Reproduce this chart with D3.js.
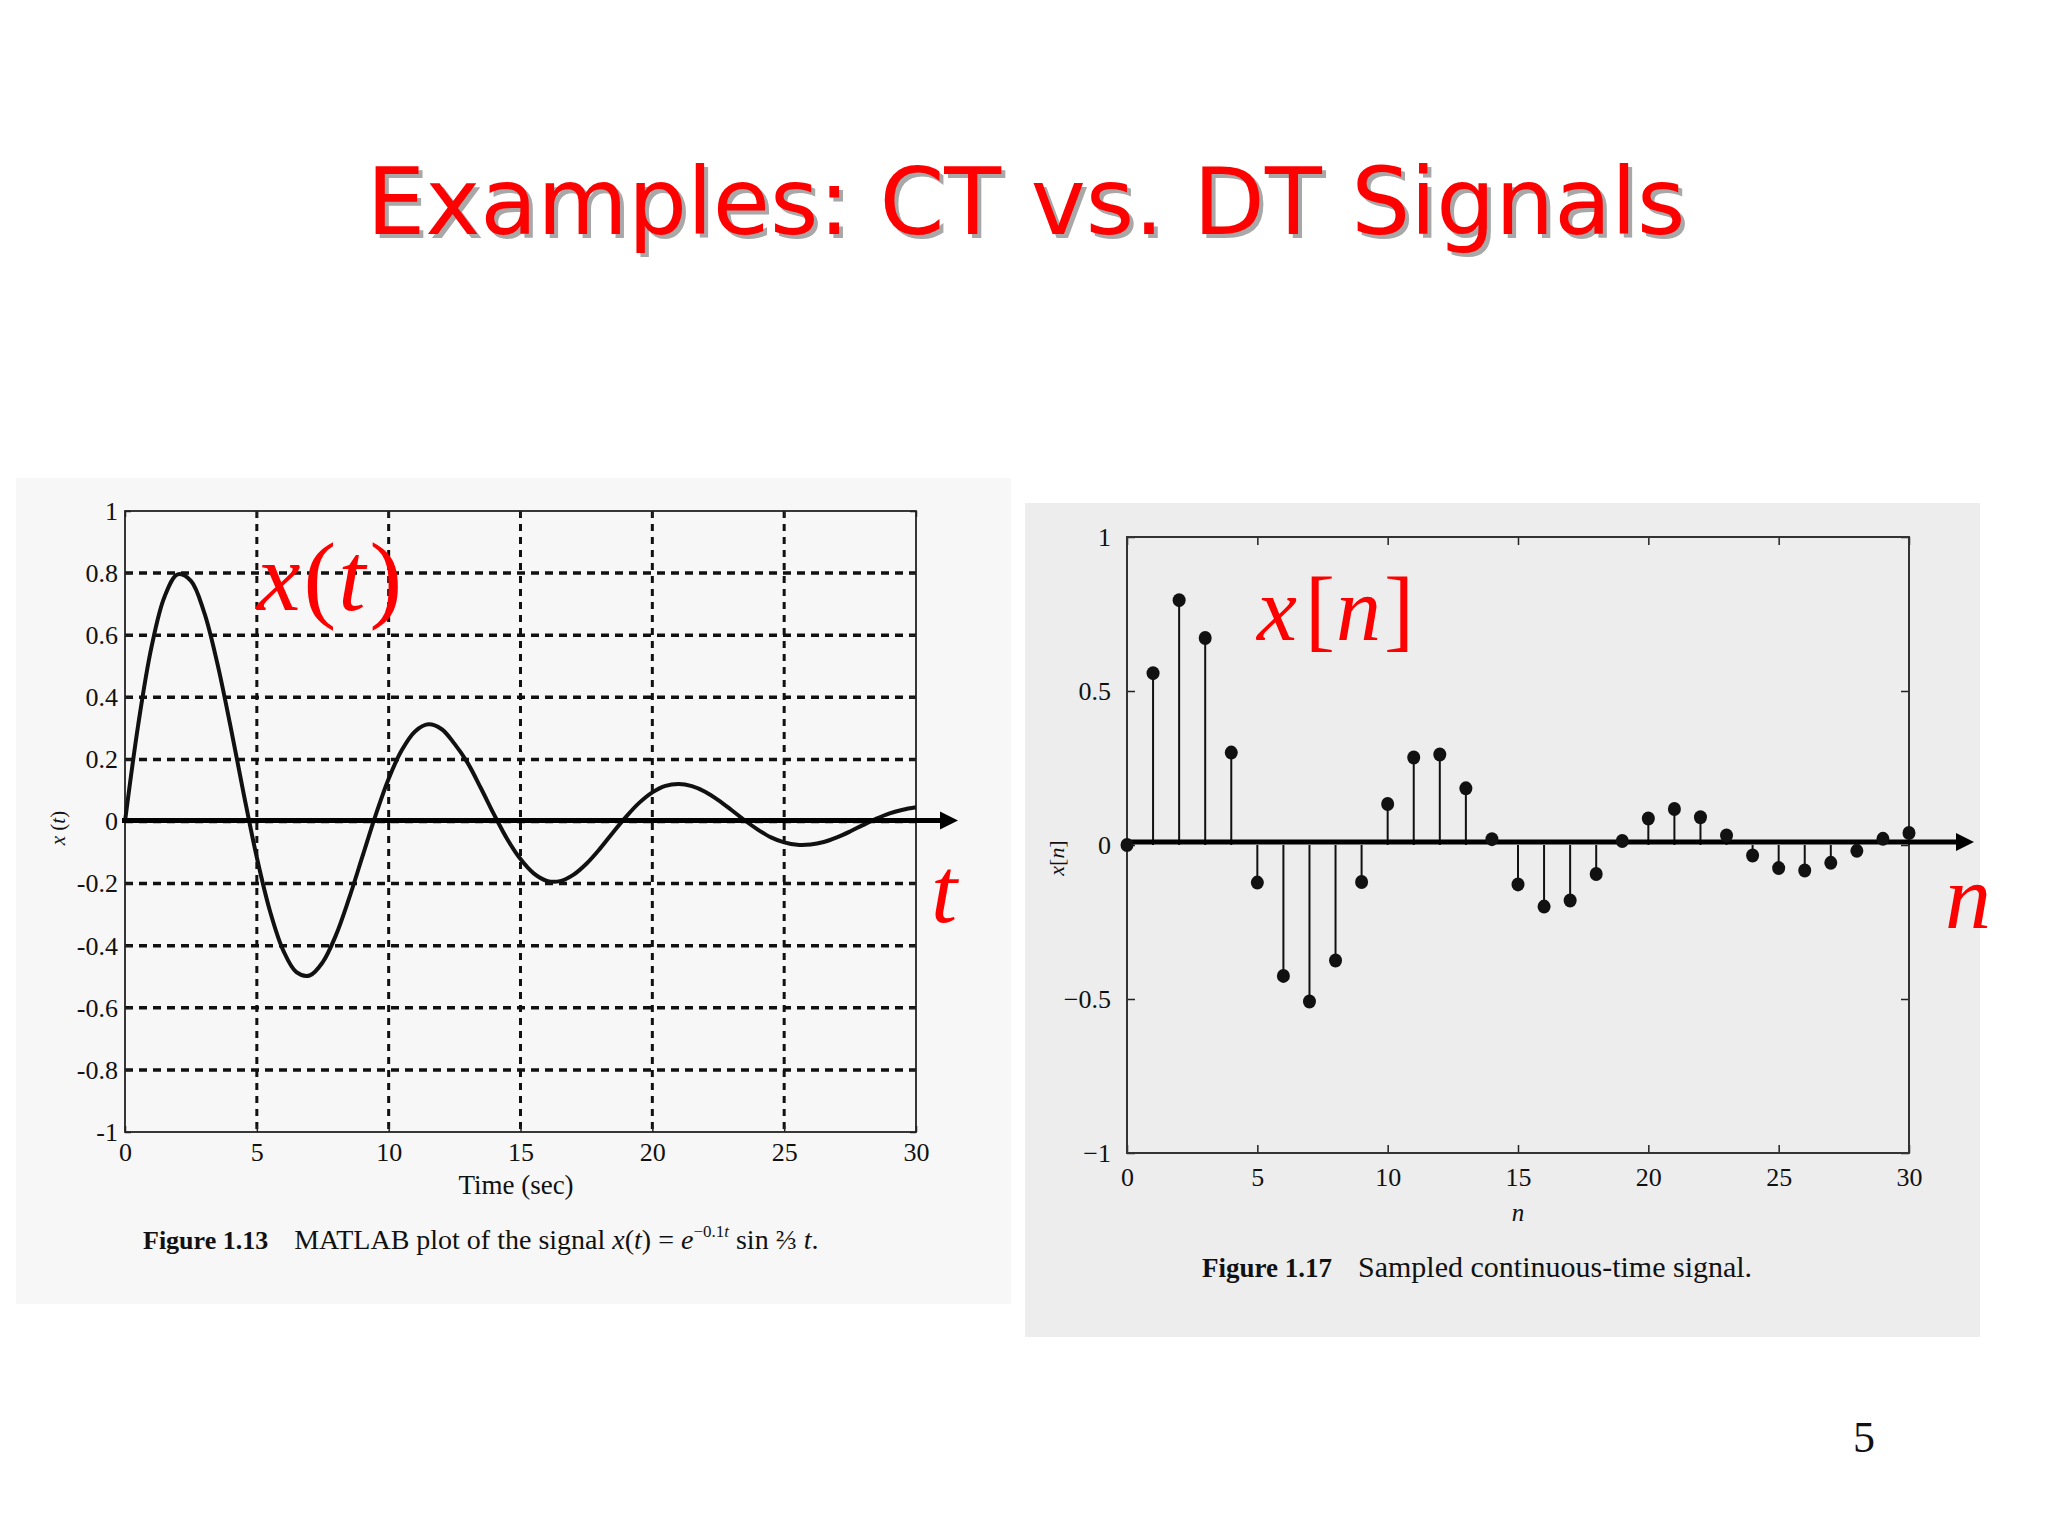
<!DOCTYPE html>
<html>
<head>
<meta charset="utf-8">
<script src="https://cdn.jsdelivr.net/npm/d3@7"></script>
<style>
  body { margin: 0; background: #fff; }
  svg { display: block; }
</style>
</head>
<body>
<svg id="slide" width="2048" height="1536"></svg>
<script>
// 连续信号 x(t)，从图上读出的采样 (t 每 0.5 s 一个点)
var ctTime = [0, 0.5, 1, 1.5, 2, 2.5, 3, 3.5, 4, 4.5, 5, 5.5, 6, 6.5, 7, 7.5, 8, 8.5, 9, 9.5,
  10, 10.5, 11, 11.5, 12, 12.5, 13, 13.5, 14, 14.5, 15, 15.5, 16, 16.5, 17, 17.5, 18, 18.5, 19, 19.5,
  20, 20.5, 21, 21.5, 22, 22.5, 23, 23.5, 24, 24.5, 25, 25.5, 26, 26.5, 27, 27.5, 28, 28.5, 29, 29.5, 30];
var ctValue = [0, 0.311, 0.560, 0.724, 0.796, 0.775, 0.674, 0.510, 0.307, 0.090, -0.116, -0.289, -0.415, -0.485, -0.496, -0.453, -0.366, -0.247, -0.114, 0.019,
  0.138, 0.230, 0.290, 0.313, 0.298, 0.250, 0.188, 0.107, 0.022, -0.057, -0.121, -0.167, -0.191, -0.192, -0.172, -0.136, -0.089, -0.036, 0.015, 0.060,
  0.094, 0.115, 0.121, 0.114, 0.096, 0.069, 0.037, 0.004, -0.026, -0.051, -0.067, -0.075, -0.074, -0.066, -0.051, -0.032, -0.011, 0.009, 0.026, 0.038, 0.046];

// 离散信号 x[n]
var dtIndex = [0, 1, 2, 3, 4, 5, 6, 7, 8, 9, 10, 11, 12, 13, 14, 15, 16, 17, 18, 19, 20, 21, 22, 23, 24, 25, 26, 27, 28, 29, 30];
var dtValue = [0, 0.558, 0.795, 0.672, 0.30, -0.122, -0.425, -0.508, -0.375, -0.12, 0.133, 0.284, 0.294, 0.184, 0.019, -0.128,
  -0.20, -0.18, -0.094, 0.013, 0.086, 0.117, 0.09, 0.031, -0.034, -0.075, -0.083, -0.058, -0.019, 0.02, 0.039];

// 刻度
var xTicks = [0, 5, 10, 15, 20, 25, 30];
var xTickLabels = ["0", "5", "10", "15", "20", "25", "30"];
var ctYTicks = [-1, -0.8, -0.6, -0.4, -0.2, 0, 0.2, 0.4, 0.6, 0.8, 1];
var ctYTickLabels = ["-1", "-0.8", "-0.6", "-0.4", "-0.2", "0", "0.2", "0.4", "0.6", "0.8", "1"];
var ctGridX = [5, 10, 15, 20, 25];
var ctGridY = [-0.8, -0.6, -0.4, -0.2, 0, 0.2, 0.4, 0.6, 0.8];
var dtYTicks = [-1, -0.5, 0, 0.5, 1];
var dtYTickLabels = ["\u22121", "\u22120.5", "0", "0.5", "1"];

var svg = d3.select("#slide");
var serif = '"Liberation Serif", "Times New Roman", serif';

svg.append("rect").attr("width", 2048).attr("height", 1536).attr("fill", "#fff");

// 扫描页的灰色底
svg.append("rect").attr("x", 16).attr("y", 478).attr("width", 995).attr("height", 826).attr("fill", "#f7f7f7");
svg.append("rect").attr("x", 1025).attr("y", 503).attr("width", 955).attr("height", 834).attr("fill", "#ededed");

// 标题
function drawTitle() {
	var g = svg.append("g")
		.style("font-family", '"DejaVu Sans", Verdana, sans-serif')
		.style("font-size", "93px")
		.attr("text-anchor", "middle");
	g.append("text").attr("x", 1030).attr("y", 238).attr("fill", "#a8a8a8").text("Examples: CT vs. DT Signals");
	g.append("text").attr("x", 1026).attr("y", 234).attr("fill", "#ff0000").text("Examples: CT vs. DT Signals");
}

function arrow(g, x0, x1, y) {
	g.append("line")
		.attr("x1", x0).attr("y1", y).attr("x2", x1 - 14).attr("y2", y)
		.attr("stroke", "#000").attr("stroke-width", 5);
	g.append("path")
		.attr("d", "M" + (x1 - 18) + "," + (y - 9) + "L" + x1 + "," + y + "L" + (x1 - 18) + "," + (y + 9) + "Z")
		.attr("fill", "#000");
}

function styleAxis(a, size) {
	a.select(".domain").remove();
	a.selectAll("text").style("font-family", serif).style("font-size", size + "px").attr("fill", "#111");
	a.selectAll("line").attr("stroke", "#222").attr("stroke-width", 1.5);
}

// 左图：MATLAB 连续信号
function drawCT() {
	var x = d3.scaleLinear().domain([0, 30]).range([125, 916]);
	var y = d3.scaleLinear().domain([-1, 1]).range([1132, 511]);
	var g = svg.append("g");

	// 虚线网格
	g.selectAll("line.gy").data(ctGridY).enter().append("line")
		.attr("x1", x(0)).attr("x2", x(30))
		.attr("y1", function(d) { return y(d); }).attr("y2", function(d) { return y(d); })
		.attr("stroke", "#111").attr("stroke-width", 3.5).attr("stroke-dasharray", "8,6");
	g.selectAll("line.gx").data(ctGridX).enter().append("line")
		.attr("y1", y(1)).attr("y2", y(-1))
		.attr("x1", function(d) { return x(d); }).attr("x2", function(d) { return x(d); })
		.attr("stroke", "#111").attr("stroke-width", 3).attr("stroke-dasharray", "7,6");

	var ax = g.append("g").attr("transform", "translate(0," + y(-1) + ")")
		.call(d3.axisBottom(x).tickValues(xTicks).tickSize(-6).tickPadding(11)
			.tickFormat(function(d, i) { return xTickLabels[i]; }));
	styleAxis(ax, 26);
	var ay = g.append("g").attr("transform", "translate(" + x(0) + ",0)")
		.call(d3.axisLeft(y).tickValues(ctYTicks).tickSize(-6).tickPadding(7)
			.tickFormat(function(d, i) { return ctYTickLabels[i]; }));
	styleAxis(ay, 26);
	styleAxis(g.append("g").attr("transform", "translate(0," + y(1) + ")")
		.call(d3.axisTop(x).tickValues(xTicks).tickSize(-6).tickFormat("")), 26);
	styleAxis(g.append("g").attr("transform", "translate(" + x(30) + ",0)")
		.call(d3.axisRight(y).tickValues(ctYTicks).tickSize(-6).tickFormat("")), 26);

	g.append("rect")
		.attr("x", x(0)).attr("y", y(1)).attr("width", x(30) - x(0)).attr("height", y(-1) - y(1))
		.attr("fill", "none").attr("stroke", "#222").attr("stroke-width", 1.8);

	var line = d3.line()
		.x(function(d, i) { return x(ctTime[i]); })
		.y(function(d) { return y(d); })
		.curve(d3.curveCatmullRom);
	g.append("path").datum(ctValue).attr("d", line)
		.attr("fill", "none").attr("stroke", "#111").attr("stroke-width", 4);

	arrow(g, x(0) - 3, 958, y(0) - 1);

	g.append("text").attr("x", 516).attr("y", 1194).attr("text-anchor", "middle")
		.style("font-family", serif).style("font-size", "27px").attr("fill", "#111").text("Time (sec)");
	var yl = g.append("text").attr("transform", "translate(65,828) rotate(-90)").attr("text-anchor", "middle")
		.style("font-family", serif).style("font-size", "21px").attr("fill", "#111");
	yl.append("tspan").style("font-style", "italic").text("x");
	yl.append("tspan").text(" (");
	yl.append("tspan").style("font-style", "italic").text("t");
	yl.append("tspan").text(")");

	// 图注
	var cap = g.append("text").attr("x", 143).attr("y", 1249)
		.style("font-family", serif).style("font-size", "28px").attr("fill", "#111");
	cap.append("tspan").style("font-weight", "bold").style("font-size", "26px").text("Figure 1.13");
	cap.append("tspan").attr("dx", 26).text("MATLAB plot of the signal ");
	cap.append("tspan").style("font-style", "italic").text("x");
	cap.append("tspan").text("(");
	cap.append("tspan").style("font-style", "italic").text("t");
	cap.append("tspan").text(") = ");
	cap.append("tspan").style("font-style", "italic").text("e");
	cap.append("tspan").attr("dy", -12).style("font-size", "17px").text("\u22120.1");
	cap.append("tspan").style("font-size", "17px").style("font-style", "italic").text("t");
	cap.append("tspan").attr("dy", 12).text(" sin ");
	cap.append("tspan").text("\u2154");
	cap.append("tspan").style("font-style", "italic").text(" t");
	cap.append("tspan").text(".");

	// 红色标注
	var lab = g.append("text").attr("x", 257).attr("y", 610)
		.style("font-family", serif).style("font-size", "98px").attr("fill", "#ff0000");
	lab.append("tspan").style("font-style", "italic").text("x");
	lab.append("tspan").attr("dx", 3).text("(");
	lab.append("tspan").attr("dx", 2).style("font-style", "italic").text("t");
	lab.append("tspan").attr("dx", 4).text(")");
	g.append("text").attr("x", 931).attr("y", 922)
		.style("font-family", serif).style("font-size", "94px").style("font-style", "italic")
		.attr("fill", "#ff0000").text("t");
}

// 右图：离散采样
function drawDT() {
	var x = d3.scaleLinear().domain([0, 30]).range([1127, 1909]);
	var y = d3.scaleLinear().domain([-1, 1]).range([1153, 537]);
	var g = svg.append("g");

	var ax = g.append("g").attr("transform", "translate(0," + y(-1) + ")")
		.call(d3.axisBottom(x).tickValues(xTicks).tickSize(-8).tickPadding(15)
			.tickFormat(function(d, i) { return xTickLabels[i]; }));
	styleAxis(ax, 26);
	var ay = g.append("g").attr("transform", "translate(" + x(0) + ",0)")
		.call(d3.axisLeft(y).tickValues(dtYTicks).tickSize(-8).tickPadding(16)
			.tickFormat(function(d, i) { return dtYTickLabels[i]; }));
	styleAxis(ay, 26);
	styleAxis(g.append("g").attr("transform", "translate(0," + y(1) + ")")
		.call(d3.axisTop(x).tickValues(xTicks).tickSize(-8).tickFormat("")), 26);
	styleAxis(g.append("g").attr("transform", "translate(" + x(30) + ",0)")
		.call(d3.axisRight(y).tickValues(dtYTicks).tickSize(-8).tickFormat("")), 26);

	g.append("rect")
		.attr("x", x(0)).attr("y", y(1)).attr("width", x(30) - x(0)).attr("height", y(-1) - y(1))
		.attr("fill", "none").attr("stroke", "#333").attr("stroke-width", 2);

	// 茎线和圆点
	g.selectAll("line.stem").data(dtValue).enter().append("line")
		.attr("class", "stem")
		.attr("x1", function(d, i) { return x(dtIndex[i]); })
		.attr("x2", function(d, i) { return x(dtIndex[i]); })
		.attr("y1", y(0))
		.attr("y2", function(d) { return y(d); })
		.attr("stroke", "#111").attr("stroke-width", 2);

	arrow(g, x(0), 1974, y(0) - 3);

	g.selectAll("ellipse.dot").data(dtValue).enter().append("ellipse")
		.attr("class", "dot")
		.attr("cx", function(d, i) { return x(dtIndex[i]); })
		.attr("cy", function(d) { return y(d); })
		.attr("rx", 6.5).attr("ry", 7)
		.attr("fill", "#111");

	g.append("text").attr("x", x(15)).attr("y", 1221).attr("text-anchor", "middle")
		.style("font-family", serif).style("font-size", "25px").style("font-style", "italic")
		.attr("fill", "#111").text("n");
	var yl = g.append("text").attr("transform", "translate(1064,858) rotate(-90)").attr("text-anchor", "middle")
		.style("font-family", serif).style("font-size", "22px").attr("fill", "#111");
	yl.append("tspan").style("font-style", "italic").text("x");
	yl.append("tspan").text("[");
	yl.append("tspan").style("font-style", "italic").text("n");
	yl.append("tspan").text("]");

	var cap = g.append("text").attr("x", 1202).attr("y", 1277)
		.style("font-family", serif).style("font-size", "30px").attr("fill", "#111");
	cap.append("tspan").style("font-weight", "bold").style("font-size", "27px").text("Figure 1.17");
	cap.append("tspan").attr("dx", 26).text("Sampled continuous-time signal.");

	var lab = g.append("text").attr("y", 640)
		.style("font-family", serif).style("font-size", "90px").attr("fill", "#ff0000");
	lab.append("tspan").attr("x", 1257).style("font-style", "italic").text("x");
	lab.append("tspan").attr("x", 1305).text("[");
	lab.append("tspan").attr("x", 1336).style("font-style", "italic").text("n");
	lab.append("tspan").attr("x", 1384).text("]");
	g.append("text").attr("x", 1945).attr("y", 928)
		.style("font-family", serif).style("font-size", "92px").style("font-style", "italic")
		.attr("fill", "#ff0000").text("n");
}

drawTitle();
drawCT();
drawDT();

// 页码
svg.append("text").attr("x", 1864).attr("y", 1452).attr("text-anchor", "middle")
	.style("font-family", serif).style("font-size", "44px").attr("fill", "#111").text("5");
</script>
</body>
</html>
